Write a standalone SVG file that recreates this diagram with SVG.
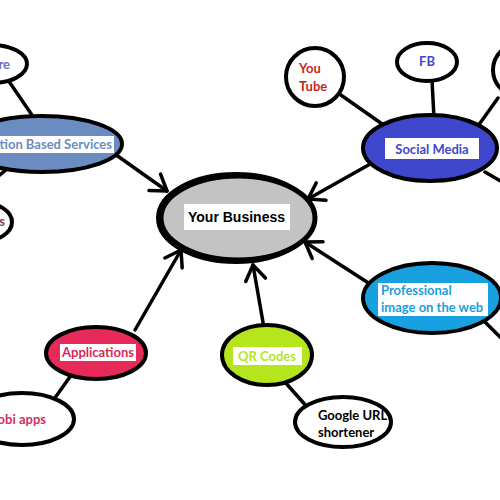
<svg xmlns="http://www.w3.org/2000/svg" width="500" height="500" viewBox="0 0 500 500">
<style>
.edge{stroke:#000;stroke-width:3.5;fill:none;stroke-linecap:round}
.arrow{marker-end:url(#ah)}
.node{stroke:#000;stroke-width:4}
.box{fill:#fff}
.lbl{font-family:Lato,"Open Sans",sans-serif;font-weight:bold;font-size:13px}
</style>
<defs>
<marker id="ah" markerUnits="userSpaceOnUse" viewBox="-20 -15 24 30" refX="0" refY="0" markerWidth="24" markerHeight="30" orient="auto">
<path d="M-15,-10 L0,0 L-15,10" fill="none" stroke="#000" stroke-width="3.5" stroke-linecap="round" stroke-linejoin="round"/>
</marker>
</defs>
<rect width="500" height="500" fill="#fff"/>
<g id="connectors">
<line class="edge" x1="8" y1="80" x2="34" y2="118"/>
<line class="edge" x1="12" y1="165" x2="-4" y2="178"/>
<line class="edge arrow" x1="112" y1="152" x2="167" y2="191"/>
<line class="edge" x1="338" y1="93" x2="385" y2="126"/>
<line class="edge" x1="432" y1="80" x2="434" y2="118"/>
<line class="edge" x1="478" y1="126" x2="498" y2="98"/>
<line class="edge" x1="485" y1="172" x2="502" y2="182"/>
<line class="edge arrow" x1="372" y1="163" x2="308" y2="199"/>
<line class="edge" x1="485" y1="322" x2="502" y2="339"/>
<line class="edge arrow" x1="370" y1="284" x2="305" y2="242"/>
<line class="edge arrow" x1="135" y1="330" x2="181" y2="250"/>
<line class="edge" x1="72" y1="374" x2="52" y2="402"/>
<line class="edge arrow" x1="264" y1="328" x2="253" y2="265"/>
<line class="edge" x1="284" y1="381" x2="308" y2="408"/>
</g>
<g id="node-re">
<ellipse class="node" cx="-8" cy="64" rx="35" ry="19" fill="#fff"/>
<text class="lbl" x="10" y="69" text-anchor="end" fill="#6a6acd" font-size="14">re</text>
</g>
<g id="node-s">
<ellipse class="node" cx="-20" cy="222" rx="32" ry="20" fill="#fff"/>
<text class="lbl" x="5" y="226" text-anchor="end" fill="#8b3a6b" font-size="14">s</text>
</g>
<g id="node-lbs">
<ellipse class="node" cx="42" cy="144" rx="80" ry="28" fill="#6b8cc0"/>
<rect class="box" x="-40" y="136" width="154" height="17"/>
<text class="lbl" x="112" y="149" text-anchor="end" fill="#6b8cc0" font-size="13.5">Location Based Services</text>
</g>
<g id="node-yb">
<ellipse cx="236" cy="218" rx="77" ry="43" fill="none" stroke="#000" stroke-width="6"/>
<ellipse cx="238" cy="218" rx="77" ry="42" fill="#c3c3c3" stroke="#000" stroke-width="5"/>
<rect class="box" x="184" y="204" width="106" height="26"/>
<text x="188" y="222" font-family="'Liberation Sans',Arial,sans-serif" font-weight="bold" font-size="14" fill="#000">Your Business</text>
</g>
<g id="node-yt">
<ellipse class="node" cx="315" cy="77" rx="29" ry="29" fill="#fff"/>
<text class="lbl" x="299" y="73" fill="#cc1f1f">You</text>
<text class="lbl" x="299" y="91" fill="#cc1f1f">Tube</text>
</g>
<g id="node-fb">
<ellipse class="node" cx="427" cy="62" rx="30" ry="19" fill="#fff"/>
<text class="lbl" x="427" y="66" text-anchor="middle" fill="#3f48cc">FB</text>
</g>
<g id="node-tr">
<ellipse class="node" cx="521" cy="70" rx="28" ry="27" fill="#fff"/>
</g>
<g id="node-sm">
<ellipse class="node" cx="430" cy="148" rx="67" ry="33" fill="#3f48cc"/>
<rect class="box" x="385" y="138" width="94" height="21"/>
<text class="lbl" x="432" y="154" text-anchor="middle" fill="#3f48cc" font-size="16">Social Media</text>
</g>
<g id="node-prof">
<ellipse class="node" cx="432" cy="298" rx="69" ry="35" fill="#19a0e0"/>
<rect class="box" x="378" y="283" width="110" height="33"/>
<text class="lbl" x="381" y="295" fill="#19a0e0">Professional</text>
<text class="lbl" x="381" y="312" fill="#19a0e0">image on the web</text>
</g>
<g id="node-apps">
<ellipse class="node" cx="96" cy="353" rx="50" ry="26" fill="#e62a5a"/>
<rect class="box" x="60" y="344" width="76" height="17"/>
<text class="lbl" x="98" y="357" text-anchor="middle" fill="#d8285a">Applications</text>
</g>
<g id="node-mobi">
<ellipse class="node" cx="22" cy="419" rx="52" ry="26" fill="#fff"/>
<text class="lbl" x="46" y="424" text-anchor="end" fill="#d03060" font-size="14">Mobi apps</text>
</g>
<g id="node-qr">
<ellipse class="node" cx="267" cy="355" rx="45" ry="30" fill="#b5e61d"/>
<rect class="box" x="233" y="347" width="69" height="18"/>
<text class="lbl" x="267" y="361" text-anchor="middle" fill="#b5e61d" font-size="15">QR Codes</text>
</g>
<g id="node-gurl">
<ellipse class="node" cx="343" cy="422" rx="48" ry="25" fill="#fff"/>
<text class="lbl" x="318" y="420" fill="#000" font-size="12">Google URL</text>
<text class="lbl" x="318" y="437" fill="#000" font-size="12">shortener</text>
</g>
</svg>
